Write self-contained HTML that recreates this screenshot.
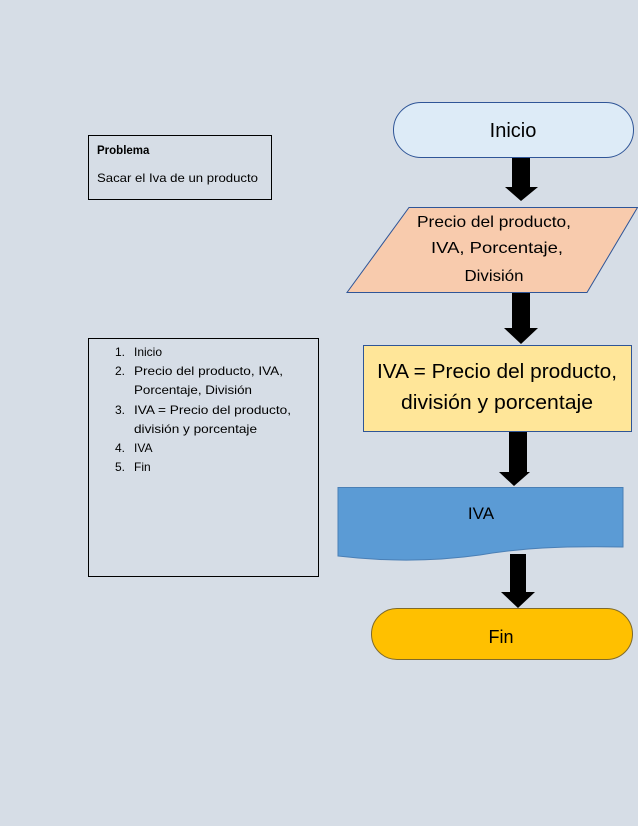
<!DOCTYPE html>
<html><head><meta charset="utf-8"><style>
html,body{margin:0;padding:0;background:#d6dde6;}
svg{display:block;font-family:"Liberation Sans",sans-serif;}
</style></head><body>
<svg width="638" height="826" viewBox="0 0 638 826" xmlns="http://www.w3.org/2000/svg">
<rect width="638" height="826" fill="#d6dde6"/>
<!-- Problem box -->
<rect x="88.5" y="135.5" width="183" height="64" fill="#d6dde6" stroke="#000" stroke-width="1"/>
<text x="97" y="154" font-size="11.5" font-weight="bold" fill="#000">Problema</text>
<text x="97" y="182" font-size="12" fill="#000" textLength="161" lengthAdjust="spacingAndGlyphs">Sacar el Iva de un producto</text>
<!-- List box -->
<rect x="88.5" y="338.5" width="230" height="238" fill="#d6dde6" stroke="#000" stroke-width="1"/>
<g font-size="12" fill="#000">
<text x="115" y="356">1.</text><text x="134" y="356">Inicio</text>
<text x="115" y="375">2.</text><text x="134" y="375" textLength="149" lengthAdjust="spacingAndGlyphs">Precio del producto, IVA,</text>
<text x="134" y="394" textLength="118" lengthAdjust="spacingAndGlyphs">Porcentaje, División</text>
<text x="115" y="414">3.</text><text x="134" y="414" textLength="157" lengthAdjust="spacingAndGlyphs">IVA = Precio del producto,</text>
<text x="134" y="433" textLength="123" lengthAdjust="spacingAndGlyphs">división y porcentaje</text>
<text x="115" y="452">4.</text><text x="134" y="452">IVA</text>
<text x="115" y="471">5.</text><text x="134" y="471">Fin</text>
</g>
<!-- Inicio -->
<rect x="393.5" y="102.5" width="240" height="55" rx="27.5" fill="#ddebf7" stroke="#2f5597" stroke-width="1"/>
<text x="513" y="137" font-size="20" text-anchor="middle" fill="#000">Inicio</text>
<!-- arrow 1 -->
<polygon points="512,158 530,158 530,187 538,187 521,201 505,187 512,187" fill="#000"/>
<!-- Parallelogram -->
<polygon points="409,207.5 637.5,207.5 587,292.5 347,292.5" fill="#f8cbad" stroke="#2f5597" stroke-width="1"/>
<g font-size="16" text-anchor="middle" fill="#000">
<text x="494" y="227" textLength="154" lengthAdjust="spacingAndGlyphs">Precio del producto,</text>
<text x="497" y="253" textLength="132" lengthAdjust="spacingAndGlyphs">IVA, Porcentaje,</text>
<text x="494" y="281" textLength="59" lengthAdjust="spacingAndGlyphs">División</text>
</g>
<!-- arrow 2 -->
<polygon points="512,293 530,293 530,328 538,328 521,344 504,328 512,328" fill="#000"/>
<!-- Process rect -->
<rect x="363.5" y="345.5" width="268" height="86" fill="#ffe699" stroke="#2f5597" stroke-width="1"/>
<text x="497" y="378" font-size="20" text-anchor="middle" fill="#000" textLength="240" lengthAdjust="spacingAndGlyphs">IVA = Precio del producto,</text>
<text x="497" y="409" font-size="20" text-anchor="middle" fill="#000" textLength="192" lengthAdjust="spacingAndGlyphs">división y porcentaje</text>
<!-- arrow 3 -->
<polygon points="509,432 527,432 527,472 530,472 514,486 499,472 509,472" fill="#000"/>
<!-- Document -->
<path d="M338,487.5 L623,487.5 L623,547 C560,546 520,548 480,555 C430,562 380,561 338,556 Z" fill="#5b9bd5" stroke="#4a7fb5" stroke-width="1"/>
<text x="481" y="519" font-size="17" text-anchor="middle" fill="#000">IVA</text>
<!-- arrow 4 -->
<polygon points="510,554 526,554 526,592 535,592 518,608 501,592 510,592" fill="#000"/>
<!-- Fin -->
<rect x="371.5" y="608.5" width="261" height="51" rx="25.5" fill="#ffc000" stroke="#7f6a2a" stroke-width="1"/>
<text x="501" y="643" font-size="18" text-anchor="middle" fill="#000">Fin</text>
</svg>
</body></html>
